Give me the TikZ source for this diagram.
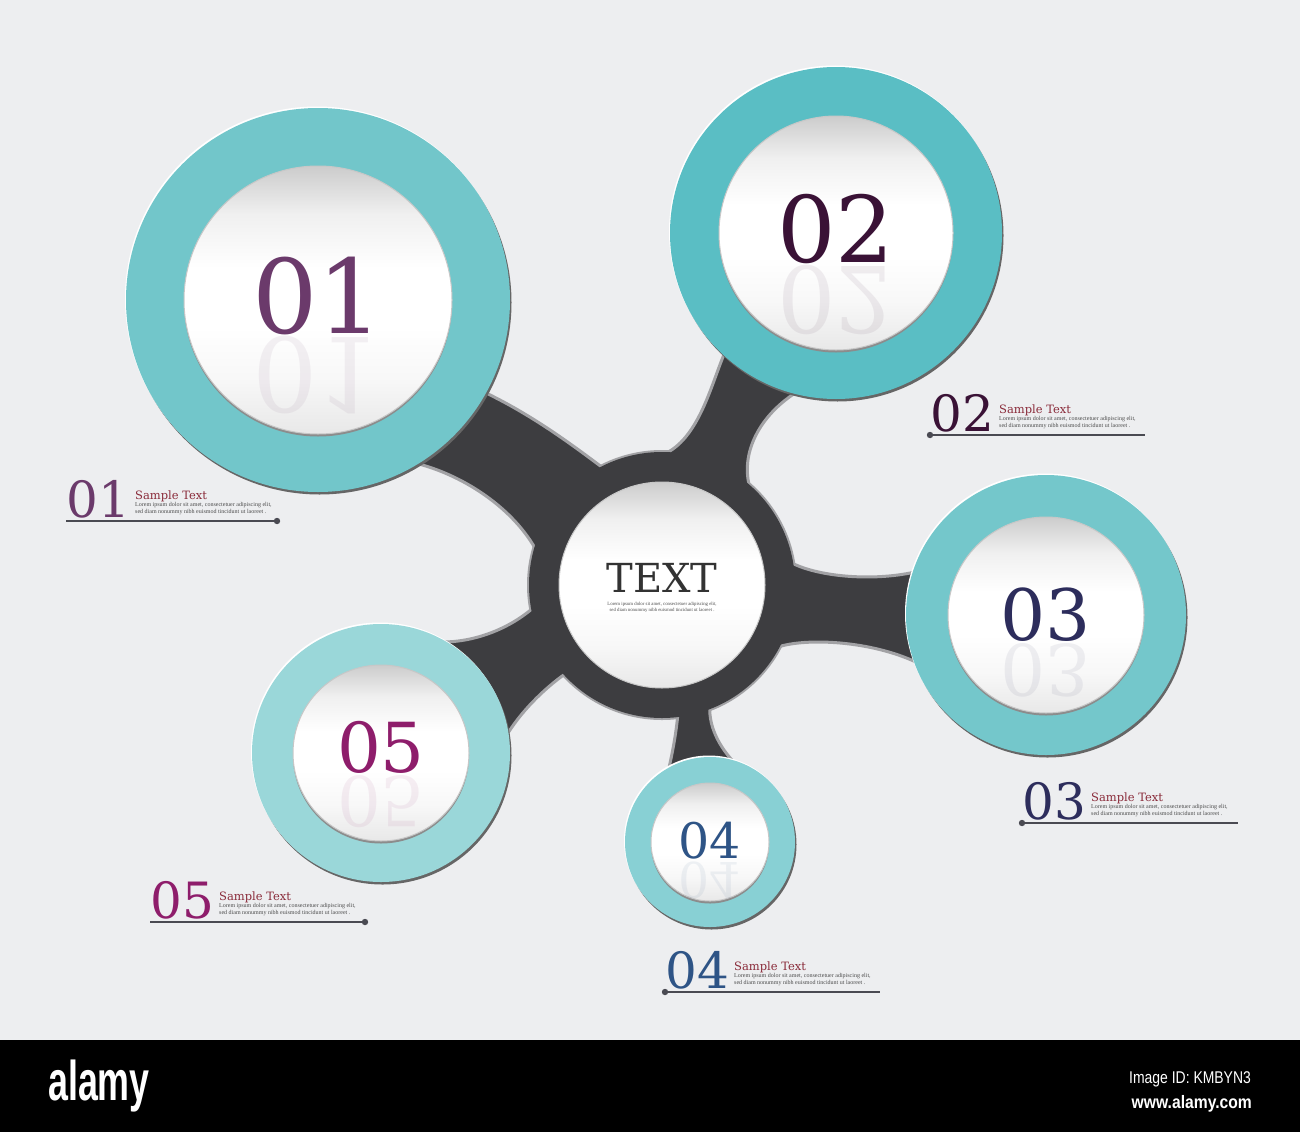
\documentclass[tikz,border=0pt]{standalone}
\usepackage{fontspec}
\setmainfont{DejaVu Serif}
\newfontfamily\loremfont{Liberation Serif}
\newfontfamily\logofont{Liberation Sans}
\usepackage{tikz}
\usetikzlibrary{calc}

\definecolor{hgrund}{HTML}{EDEEF0}
\definecolor{dunkel}{HTML}{3D3D40}
\definecolor{randgrau}{HTML}{A2A2A5}
\definecolor{ring1}{HTML}{72C6CA}
\definecolor{ring2}{HTML}{5ABEC4}
\definecolor{ring3}{HTML}{74C7CB}
\definecolor{ring4}{HTML}{88D0D4}
\definecolor{ring5}{HTML}{9AD7D9}
\definecolor{zahl1}{HTML}{6B3A6B}
\definecolor{zahl2}{HTML}{3A1236}
\definecolor{zahl3}{HTML}{2D2D5C}
\definecolor{zahl4}{HTML}{2E5486}
\definecolor{zahl5}{HTML}{8E1D6B}
\definecolor{probefarbe}{HTML}{8A2B3A}
\definecolor{strichfarbe}{HTML}{4A4A52}
\pgfdeclareverticalshading{scheibenlicht}{100bp}{color(0bp)=(black!9);
    color(25bp)=(black!9); color(35bp)=(black!3); color(45bp)=(white);
    color(56bp)=(white); color(66bp)=(black!6); color(75bp)=(black!20);
    color(100bp)=(black!20)}

\begin{document}
\begin{tikzpicture}[x=1pt, y=-1pt]
            \tikzset{
                kante/.style={draw=randgrau, line width=3pt},
                scheibe/.style={shading=scheibenlicht, draw=black!22, line width=1pt},
                zahl/.style={inner sep=0pt, anchor=base},
                etikett/.style={inner sep=0pt, anchor=base west,
                    font=\fontsize{50}{50}\selectfont},
                probe/.style={inner sep=0pt, anchor=base west, text=probefarbe,
                    font=\fontsize{11.5}{12}\selectfont},
                lorem/.style={inner sep=0pt, align=left, text=black!70,
                    font=\loremfont\fontsize{6}{7.6}\selectfont},
                strich/.style={draw=strichfarbe, line width=2.2pt}
            }
            \useasboundingbox (0,0) rectangle (1300,1132);
            \fill[hgrund] (0,0) rectangle (1300,1040);
            \fill[black] (0,1040) rectangle (1300,1132);

            \coordinate (nabe) at (662,585);
            \coordinate (k1) at (318,300);
            \coordinate (k2) at (836,233);
            \coordinate (k3) at (1046,615);
            \coordinate (k4) at (710,842);
            \coordinate (k5) at (381,753);

            % dunkle Nabe mit Armen
            \draw[kante, line width=4pt] (nabe) circle[radius=133];
            \fill[dunkel] (nabe) -- (603,468) .. controls (566,440) and (528,413) .. (484,392)
                -- (k1) -- (415,463) .. controls (460,474) and (510,505) .. (535,548) -- cycle;
            \fill[dunkel] (nabe) -- (662,455) .. controls (700,440) and (712,380) .. (726,350)
                -- (k2) -- (800,390) .. controls (758,415) and (740,455) .. (750,488) -- cycle;
            \fill[dunkel] (nabe) -- (790,562) .. controls (815,576) and (870,582) .. (915,572)
                -- (k3) -- (918,663) .. controls (870,640) and (805,638) .. (778,647) -- cycle;
            \fill[dunkel] (nabe) -- (678,713) .. controls (676,735) and (672,755) .. (668,772)
                -- (k4) -- (740,768) .. controls (722,752) and (708,728) .. (710,706) -- cycle;
            \fill[dunkel] (nabe) -- (533,608) .. controls (505,632) and (470,642) .. (443,642)
                -- (k5) -- (505,738) .. controls (520,712) and (545,688) .. (565,674) -- cycle;

            \draw[kante] (603,468) .. controls (566,440) and (528,413) .. (484,392);
            \draw[kante] (415,463) .. controls (460,474) and (510,505) .. (535,548);
            \draw[kante] (662,455) .. controls (700,440) and (712,380) .. (726,350);
            \draw[kante] (800,390) .. controls (758,415) and (740,455) .. (750,488);
            \draw[kante] (790,562) .. controls (815,576) and (870,582) .. (915,572);
            \draw[kante] (918,663) .. controls (870,640) and (805,638) .. (778,647);
            \draw[kante] (678,713) .. controls (676,735) and (672,755) .. (668,772);
            \draw[kante] (740,768) .. controls (722,752) and (708,728) .. (710,706);
            \draw[kante] (533,608) .. controls (505,632) and (470,642) .. (443,642);
            \draw[kante] (505,738) .. controls (520,712) and (545,688) .. (565,674);
            \fill[dunkel] (nabe) circle[radius=133];

            % Ringe
            \foreach \k/\R/\r/\farbe in {k1/192/134/ring1, k2/166/117/ring2,
                k3/140/98/ring3, k4/85/59/ring4, k5/129/88/ring5} {
                \fill[black!60] ($(\k)+(1.5,2.5)$) circle[radius=\R];
                \fill[white] ($(\k)+(-1,-1.5)$) circle[radius=\R];
                \fill[\farbe] (\k) circle[radius=\R];
                \fill[black!45] ($(\k)+(0,2.5)$) circle[radius=\r];
                \shadedraw[scheibe] (\k) circle[radius=\r];
            }
            \shadedraw[scheibe] (nabe) circle[radius=103];

            \foreach \k/\dy/\gr/\farbe/\t in {k1/33/103/zahl1/01, k2/29/92/zahl2/02,
                k3/25/71/zahl3/03, k4/16/49/zahl4/04, k5/19/69/zahl5/05} {
                \node[zahl, text=\farbe, font=\fontsize{\gr}{\gr}\selectfont]
                    (z\t) at ($(\k)+(0,\dy)$) {\t};
                \node[zahl, text=\farbe, text opacity=.07, yscale=-1,
                    font=\fontsize{\gr}{\gr}\selectfont]
                    (s\t) at ($(\k)+(0,\dy+4)$) {\t};
            }

            \node[zahl, text=black!80, font=\fontsize{40}{40}\selectfont]
                (titel) at ($(nabe)+(0,7)$) {TEXT};
            \node[lorem, align=center, anchor=north,
                font=\loremfont\fontsize{4.8}{6.2}\selectfont]
                (untertitel) at ($(titel.base)+(0,10)$)
                {Lorem ipsum dolor sit amet, consectetuer adipiscing elit,\\
                 sed diam nonummy nibh euismod tincidunt ut laoreet .};

            % Beschriftungen
            \foreach \i/\x/\y/\xe/\xp/\farbe in {1/66/521/277/277/zahl1,
                2/930/435/1145/930/zahl2, 3/1022/823/1238/1022/zahl3,
                4/665/992/880/665/zahl4, 5/150/922/365/365/zahl5} {
                \node[etikett, text=\farbe] (n\i) at (\x,\y-4) {0\i};
                \node[probe] (p\i) at ($(n\i.base east)+(5,-18)$) {Sample Text};
                \node[lorem, anchor=north west] (l\i) at ($(p\i.base west)+(0,3)$)
                    {Lorem ipsum dolor sit amet, consectetuer adipiscing elit,\\
                     sed diam nonummy nibh euismod tincidunt ut laoreet .};
                \coordinate (a\i) at (\x,\y);
                \coordinate (b\i) at (\xe,\y);
                \draw[strich] (a\i) -- (b\i);
                \fill[strichfarbe] (\xp,\y) circle[radius=3.2];
            }

            \node[text=white, inner sep=0pt, anchor=base west, xscale=.64,
                font=\logofont\bfseries\fontsize{56}{56}\selectfont]
                (logo) at (48,1100) {alamy};
            \node[text=white, inner sep=0pt, anchor=base east, xscale=.82,
                font=\logofont\fontsize{17}{17}\selectfont]
                (bildid) at (1251,1083) {Image ID: KMBYN3};
            \node[text=white, inner sep=0pt, anchor=base east, xscale=.87,
                font=\logofont\bfseries\fontsize{18}{18}\selectfont]
                (web) at (1252,1108) {www.alamy.com};
\end{tikzpicture}
\end{document}
